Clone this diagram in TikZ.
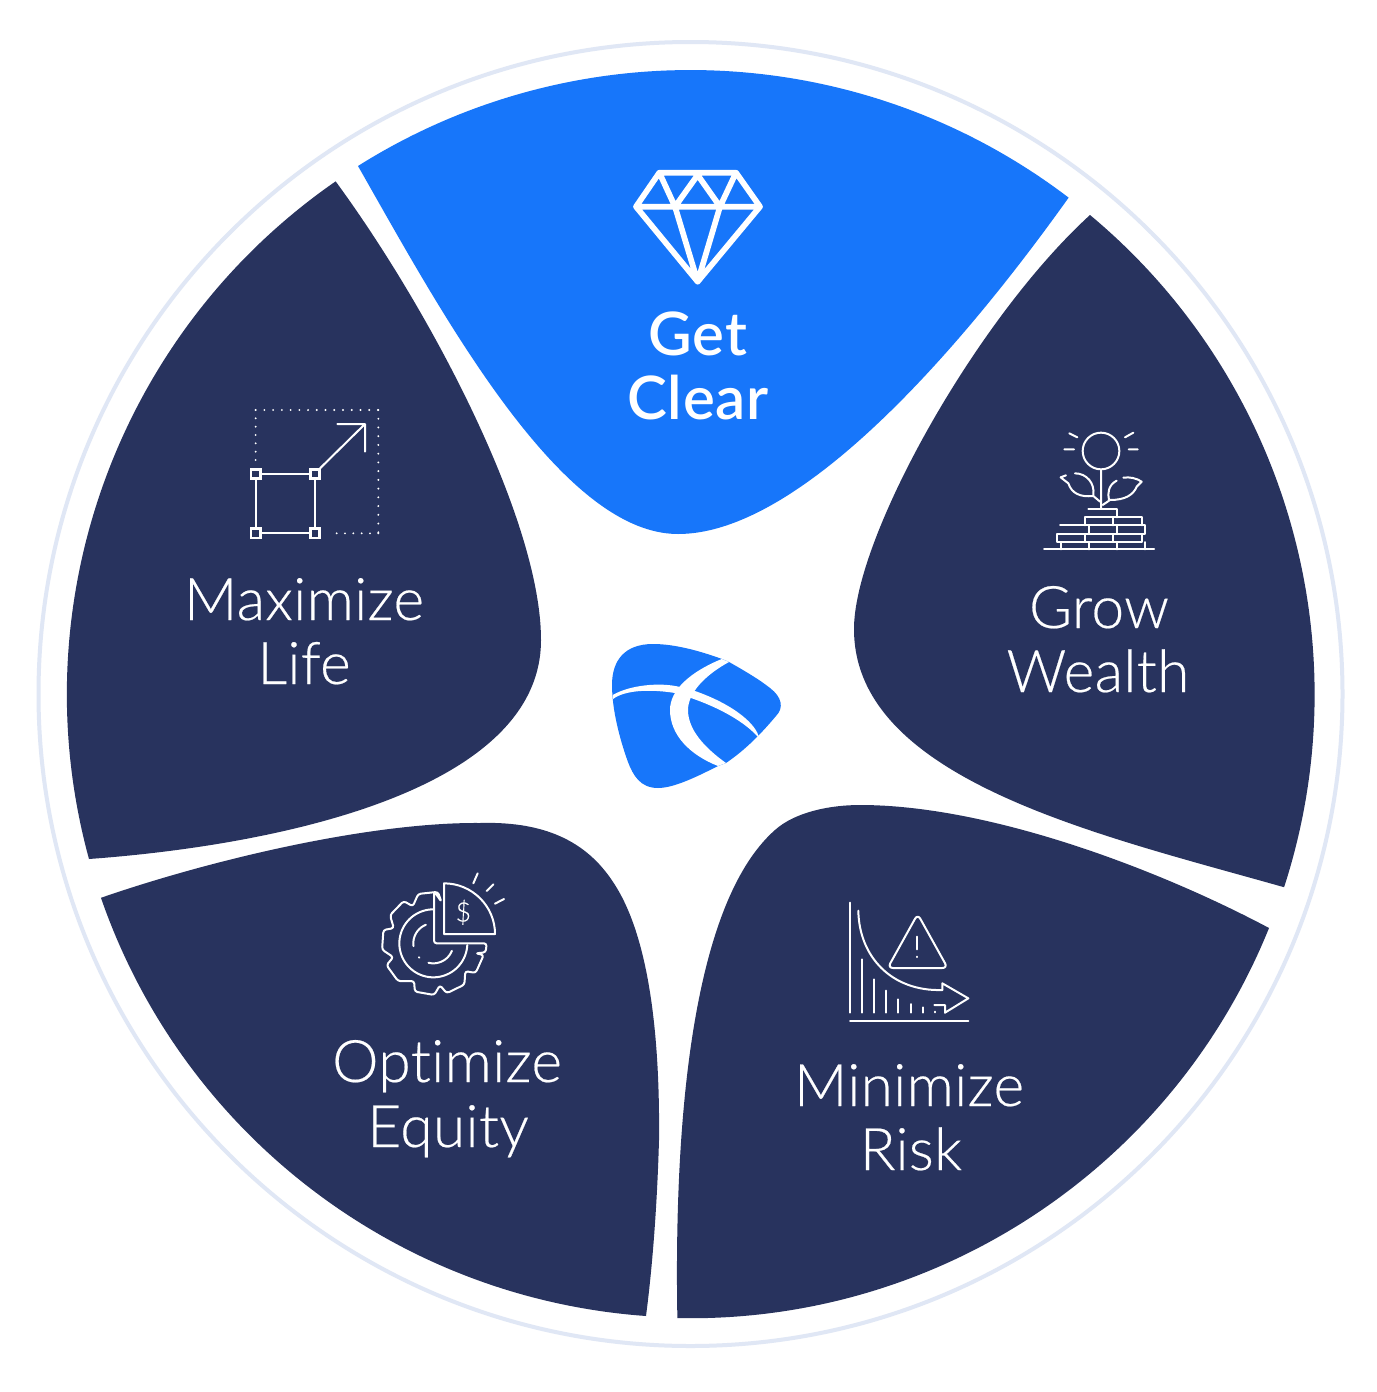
\documentclass[tikz,border=0pt]{standalone}
\usepackage{fontspec}
\setmainfont[Ligatures=NoCommon,FakeBold=0.35,LetterSpace=0.6]{Lato Light}
\newfontfamily\medfont[Ligatures=NoCommon,LetterSpace=1.2]{Lato Semibold}
\definecolor{navy}{HTML}{28335E}
\definecolor{brandblue}{HTML}{1776FA}
\definecolor{ringc}{HTML}{E0E7F5}
\tikzset{
  petal/.style={fill=navy},
  label/.style={anchor=base,text=white,font=\fontsize{44}{44}\selectfont,inner sep=0pt},
  boldlabel/.style={anchor=base,text=white,font=\medfont\fontsize{45}{45}\selectfont,inner sep=0pt},
  icon/.style={draw=white,line width=1.5pt,line join=round,line cap=round},
  dots/.style={draw=white,line width=1.6pt,line cap=round,dash pattern=on 0pt off 6.55pt},
  dotsb/.style={draw=white,line width=1.6pt,line cap=round,dash pattern=on 0pt off 6.25pt},
}
\begin{document}
\begin{tikzpicture}[x=0.75pt,y=-0.75pt]
\useasboundingbox (0,0) rectangle (1377,1392);
\fill[white] (0,0) rectangle (1377,1392);
\coordinate (c) at (690.5,694);
\draw[ringc,line width=3pt] (c) circle[radius=652];
% petals
\fill[brandblue] (358,166) arc[start angle=-122.2,end angle=-52.7,radius=624]
  .. controls (960,350) and (800,534) .. (678,534)
  .. controls (560,534) and (440,310) .. (358,166) -- cycle;
\fill[petal] (1090,215) arc[start angle=-50.2,end angle=18,radius=624]
  .. controls (1100,835) and (855,780) .. (854,630)
  .. controls (853,540) and (975,320) .. (1090,215) -- cycle;
\fill[petal] (1269,928) arc[start angle=22,end angle=91.2,radius=624]
  .. controls (674,1130) and (690,905) .. (775,830)
  .. controls (795,812) and (830,805) .. (860,805)
  .. controls (990,805) and (1160,870) .. (1269,928) -- cycle;
\fill[petal] (646,1316) arc[start angle=94.1,end angle=160.9,radius=624]
  .. controls (210,860) and (370,822) .. (480,823)
  .. controls (550,821) and (590,845) .. (615,885)
  .. controls (650,940) and (660,1040) .. (659,1140)
  .. controls (657,1210) and (652,1270) .. (646,1316) -- cycle;
\fill[petal] (89,859) arc[start angle=164.7,end angle=235.3,radius=624]
  .. controls (430,310) and (541,520) .. (541,640)
  .. controls (541,790) and (280,845) .. (89,859) -- cycle;
% labels
\node[boldlabel] (get) at (698,355) {Get};
\node[boldlabel] (clear) at (698,419) {Clear};
\node[label] (grow) at (1099,628) {Grow};
\node[label] (wealth) at (1098,692) {Wealth};
\node[label] (minimize) at (909,1106) {Minimize};
\node[label] (risk) at (911,1170) {Risk};
\node[label] (optimize) at (447,1082) {Optimize};
\node[label] (equity) at (448,1147) {Equity};
\node[label] (maximize) at (304,620) {Maximize};
\node[label] (life) at (304,684) {Life};
% logo
\fill[brandblue] (729,662) .. controls (745,671) and (760,680) .. (770,688)
  .. controls (782,697) and (784,708) .. (776,716)
  .. controls (760,735) and (745,750) .. (726,763) -- (718,766)
  .. controls (700,775) and (675,788) .. (658,788)
  .. controls (640,788) and (633,775) .. (628,762)
  .. controls (620,740) and (612,710) .. (612,685)
  .. controls (612,660) and (625,644) .. (653,644)
  .. controls (675,644) and (700,651) .. (722,659) -- cycle;
\fill[white] (721.7,659) .. controls (690,672) and (670,690) .. (670,710)
  .. controls (670,735) and (690,755) .. (718,766)
  -- (726,763) .. controls (705,748) and (688,730) .. (688,710)
  .. controls (688,693) and (705,675) .. (729,662) -- cycle;
\fill[white] (612.7,695) .. controls (630,685) and (660,682) .. (680,687)
  -- (695,691) .. controls (735,705) and (757,725) .. (759,738)
  .. controls (745,722) and (720,708) .. (691,698)
  -- (675,693) .. controls (650,689) and (625,690) .. (613,699) -- cycle;
% diamond
\begin{scope}[shift={(600,150)},x=0.25pt,y=-0.25pt]
\draw[white,line width=4.3pt,line join=round,line cap=round]
  (178,68) -- (408,68) -- (480,170) -- (293,395) -- (108,170) -- cycle
  (108,170) -- (480,170)
  (178,68) -- (225,170) -- (293,75) -- (360,170) -- (408,68)
  (225,170) -- (293,395) -- (360,170);
\end{scope}
% plant
\begin{scope}[shift={(1030,420)},x=0.25pt,y=-0.25pt]
\draw[icon] (213,93) circle[radius=55];
\draw[icon] (213,150) -- (213,265)
  (118,40) -- (142,52) (103,88) -- (132,88) (285,52) -- (310,38) (296,88) -- (323,88);
\draw[icon] (210,245) -- (190,228) .. controls (150,232) and (125,220) .. (115,190)
  -- (92,172) -- (108,166);
\draw[icon] (135,160) .. controls (170,160) and (195,190) .. (190,225);
\draw[icon] (218,255) -- (240,240) .. controls (285,240) and (310,225) .. (320,200)
  -- (335,185) .. controls (320,175) and (300,170) .. (280,173);
\draw[icon] (260,182) .. controls (235,195) and (232,220) .. (237,240);
\draw[icon] (175,268) -- (262,268) -- (262,292);
\draw[icon] (42,388) -- (372,388);
\draw[icon] (165,316) -- (165,292) -- (335,292) -- (335,316) (250,292) -- (250,316);
\draw[icon] (90,316) -- (345,316) -- (345,342) -- (80,342) -- (80,366) -- (335,366) -- (335,342);
\draw[icon] (178,316) -- (178,342) (262,316) -- (262,342) (165,342) -- (165,366) (250,342) -- (250,366);
\draw[icon] (92,366) -- (92,388) (178,366) -- (178,388) (262,366) -- (262,388) (345,366) -- (345,388);
\end{scope}
% risk
\begin{scope}[shift={(835,890)},x=0.25pt,y=-0.25pt]
\draw[icon] (45,38) -- (45,368) (45,392) -- (400,392);
\draw[icon] (70,62) .. controls (72,200) and (170,305) .. (322,300);
\draw[icon] (322,300) -- (322,280) -- (400,325) -- (330,368) -- (330,345) -- (298,345);
\draw[icon] (82,208) -- (82,368) (118,268) -- (118,368) (154,302) -- (154,368)
  (190,328) -- (190,368) (227,342) -- (227,368) (264,352) -- (264,368) (300,365) -- (300,367);
\draw[icon,rounded corners=4pt] (248,72) -- (338,234) -- (158,234) -- cycle;
\draw[icon] (247,140) -- (247,178) (247,200) -- (247,201);
\end{scope}
% gear
\begin{scope}[shift={(370,865)},x=0.25pt,y=-0.25pt]
\draw[icon] (222,55) .. controls (306,55) and (375,123) .. (375,207) -- (222,207) -- cycle;
\draw[icon] (323,25) -- (310,55) (370,58) -- (350,78) (402,102) -- (375,116);
\node[text=white,inner sep=0pt,font=\fontsize{20}{20}\selectfont] (dollar) at (280,142) {\$};
\begin{scope}[shift={(190,235)}]
\draw[icon,rounded corners=2pt] (160,0) -- (157,27) -- (127,30)
  \foreach \a in {24,64,100,144,184,224,264}{ -- (\a-11:155) -- (\a+11:155) -- (\a+17:127)}
  -- (2,-157) -- (2,0) -- cycle;
\draw[icon] plot[domain=3:270,samples=60] (\x:102);
\draw[icon] plot[domain=172:248,samples=20] (\x:60);
\draw[icon] plot[domain=134:136,samples=2] (\x:60);
\draw[icon] plot[domain=22:104,samples=20] (\x:60);
\end{scope}
\end{scope}
% growth
\begin{scope}[shift={(240,400)},x=0.25pt,y=-0.25pt]
\draw[dots] (47,30) -- (415,30);
\draw[dots] (415,30) -- (415,400);
\draw[dotsb] (415,400) -- (265,400);
\draw[dotsb] (47,30) -- (47,182);
\draw[icon] (47,222) -- (225,222) -- (225,400) -- (47,400) -- cycle;
\draw[icon] (240,205) -- (375,72) (292,72) -- (375,72) -- (375,155);
\foreach \p/\q in {47/222,225/222,47/400,225/400}
  \draw[draw=white,fill=navy,line width=1.9pt] (\p-14,\q-14) rectangle (\p+14,\q+14);
\end{scope}
\end{tikzpicture}
\end{document}
